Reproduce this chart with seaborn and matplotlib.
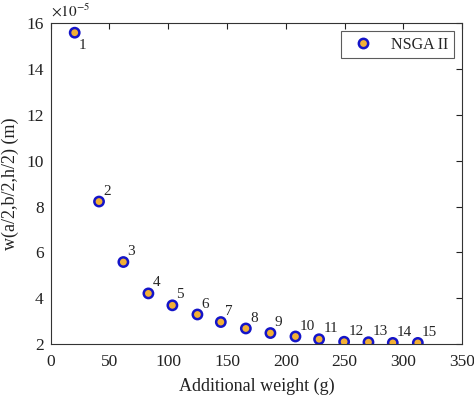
"""Pareto front of NSGA II: deflection vs additional weight."""

import matplotlib
matplotlib.use("Agg")
import matplotlib.pyplot as plt
import pandas as pd
import seaborn as sns

# Additional weight (g)
weight = [20.4, 41.1, 61.8, 83.1, 103.5, 124.8, 144.7, 166.0,
          186.9, 208.2, 228.3, 249.6, 270.3, 291.0, 312.3]
# w(a/2,b/2,h/2) in units of 1e-5 m
deflection = [15.59, 8.22, 5.58, 4.21, 3.69, 3.29, 2.96, 2.68,
              2.48, 2.33, 2.21, 2.10, 2.08, 2.05, 2.05]
point_labels = [str(i) for i in range(1, 16)]

df = pd.DataFrame({"weight": weight, "w": deflection, "series": "NSGA II"})

sns.set_theme(style="white")
plt.rcParams["font.family"] = ["Liberation Serif", "DejaVu Serif"]
plt.rcParams["mathtext.fontset"] = "stix"

fig, ax = plt.subplots(figsize=(4.74, 3.95), dpi=100)
fig.subplots_adjust(left=0.107, right=0.975, top=0.941, bottom=0.129)

sns.scatterplot(
    data=df, x="weight", y="w", hue="series",
    palette=["#f2b035"], edgecolor="#1414c8", linewidth=1.8,
    s=45, ax=ax, zorder=3,
)

for i, (x, y, lab) in enumerate(zip(weight, deflection, point_labels)):
    if i == 0:
        ax.annotate(lab, (x, y), xytext=(3, -12), textcoords="offset points",
                    fontsize=11)
    else:
        ax.annotate(lab, (x, y), xytext=(3, 5), textcoords="offset points",
                    fontsize=11)

ax.set_xlim(0, 350)
ax.set_ylim(2, 16)
ax.set_xticks(range(0, 351, 50))
ax.set_yticks(range(2, 17, 2))
ax.tick_params(axis="both", direction="in", top=True, right=True, length=4,
               width=0.8, labelsize=12.5, colors="#222222")
ax.tick_params(axis="x", pad=7)
ax.tick_params(axis="y", pad=5)
for sp in ax.spines.values():
    sp.set_color("#333333")
    sp.set_linewidth(0.8)

ax.set_xlabel("Additional weight (g)", fontsize=13, color="#222222",
              labelpad=6)
ax.set_ylabel("w(a/2,b/2,h/2) (m)", fontsize=13, color="#222222",
              labelpad=5)
ax.text(0.0, 1.01, r"$\times10^{-5}$", transform=ax.transAxes,
        fontsize=11, ha="left", va="bottom", color="#222222")

leg = ax.legend(loc="upper right", fontsize=11.5, frameon=True, fancybox=False,
                borderpad=0.35, handletextpad=0.8, markerscale=1.0)
leg.get_frame().set_edgecolor("#333333")
leg.get_frame().set_linewidth(0.8)

fig.savefig("out.png", dpi=100)
